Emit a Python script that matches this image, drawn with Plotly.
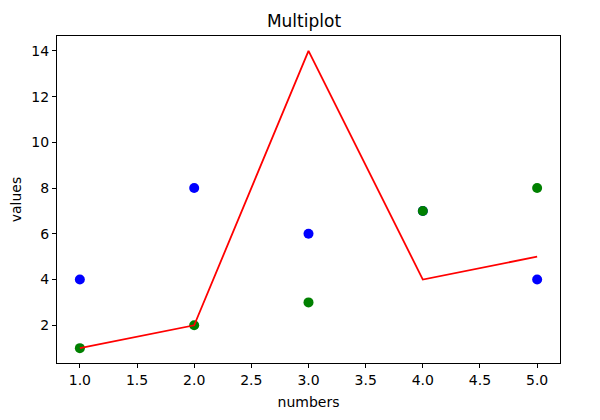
import plotly.graph_objects as go

# Chart data.
numbers = [1, 2, 3, 4, 5]
line_values = [1, 2, 14, 4, 5]
blue_values = [4, 8, 6, 7, 4]
green_values = [1, 2, 3, 7, 8]

fig = go.Figure()

# Scatter points first, the line sits on top of them.
fig.add_trace(go.Scatter(x=numbers, y=blue_values, mode='markers',
                         marker=dict(color='blue', size=10)))
fig.add_trace(go.Scatter(x=numbers, y=green_values, mode='markers',
                         marker=dict(color='green', size=10)))
fig.add_trace(go.Scatter(x=numbers, y=line_values, mode='lines',
                         line=dict(color='red', width=1.8)))

axis_style = dict(showline=True, linecolor='black', linewidth=1,
                  mirror=True, ticks='outside', ticklen=4,
                  tickcolor='black', showgrid=False, zeroline=False,
                  automargin=False,
                  tickfont=dict(size=14, color='black'))

# The page body adds 8px around the figure, so the figure is 8px smaller.
fig.update_layout(
    width=592, height=412,
    margin=dict(l=49, r=40, t=28, b=57),
    paper_bgcolor='white', plot_bgcolor='white',
    font=dict(family='DejaVu Sans', color='black'),
    showlegend=False,
    title=dict(text='Multiplot', x=0.5, xanchor='center', y=0.968,
               yanchor='middle', font=dict(size=17)),
)
fig.update_xaxes(range=[0.8, 5.2], dtick=0.5, tickformat='.1f',
                 title=dict(text='numbers', font=dict(size=14), standoff=10),
                 **axis_style)
fig.update_yaxes(range=[0.35, 14.65], dtick=2,
                 title=dict(text='values', font=dict(size=14), standoff=13),
                 **axis_style)

fig.write_html("out.html")
